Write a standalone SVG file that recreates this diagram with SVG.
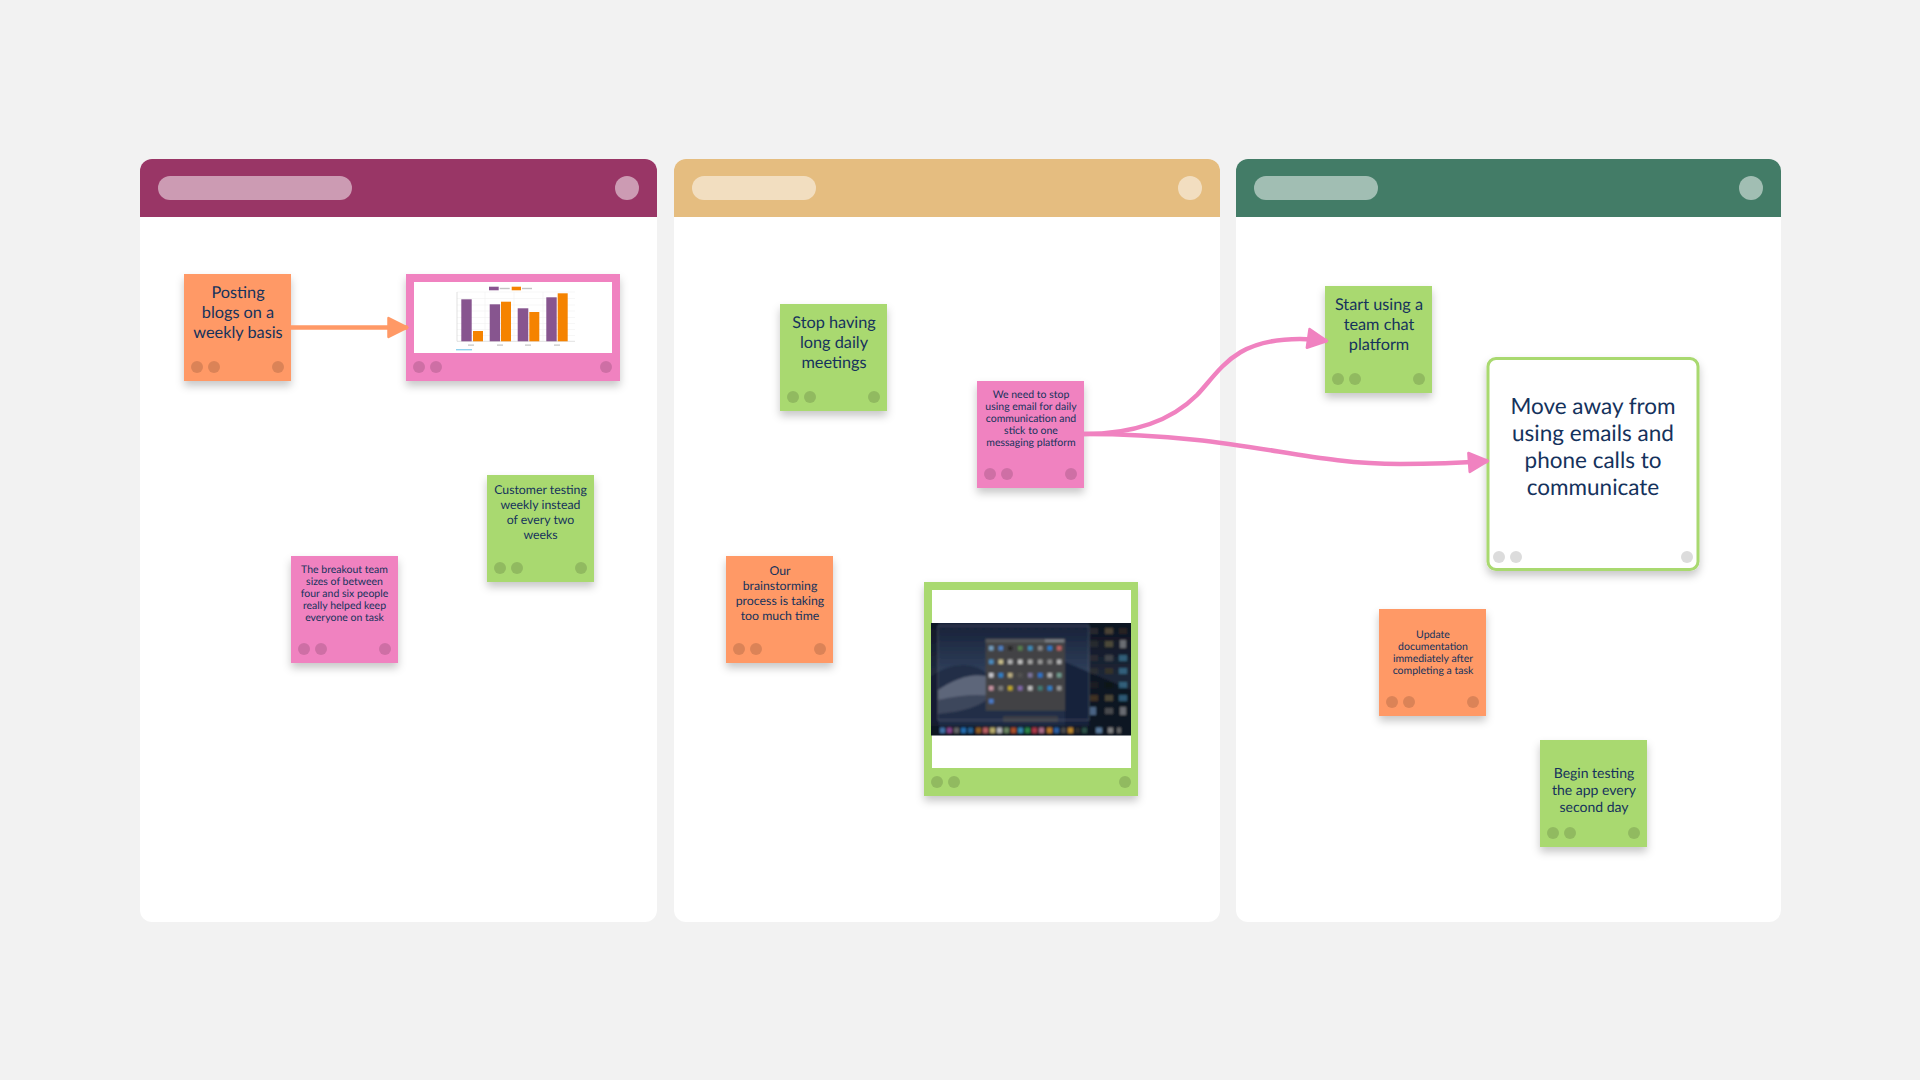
<svg xmlns="http://www.w3.org/2000/svg" width="1920" height="1080" viewBox="0 0 1920 1080">
<style>
text{font-family:"Lato","Noto Sans",sans-serif;fill:#15325c;text-anchor:middle;text-rendering:geometricPrecision}
.s{font-size:10.5px;transform:translateY(.4px)}.m{font-size:12.3px;transform:translateY(.4px)}.c{font-size:14px}.l{font-size:16.3px;transform:translateY(.6px)}.x{font-size:22.5px}
.o{fill:#ff9966}.p{fill:#f082c0}.g{fill:#a9d96f}
.d{fill:#000;fill-opacity:.14}.dw{fill:#dcdcdc}
.pill{fill:#fff;fill-opacity:.5}
.wire{fill:none;stroke-width:4.500}
</style>
<defs>
<filter id="sh" x="-20%" y="-20%" width="140%" height="150%"><feDropShadow dx="0" dy="5" stdDeviation="4" flood-color="#000" flood-opacity=".22"/></filter>
<filter id="bl" x="-5%" y="-5%" width="110%" height="110%"><feGaussianBlur stdDeviation=".85"/></filter>
<filter id="bl2" x="-5%" y="-5%" width="110%" height="110%"><feGaussianBlur stdDeviation=".35"/></filter>
<clipPath id="shot"><rect x="931" y="623" width="200" height="112.500"/></clipPath>
<linearGradient id="sky" x1="0" y1="0" x2="0" y2="1"><stop offset="0" stop-color="#141e34"/><stop offset=".5" stop-color="#33435f"/><stop offset="1" stop-color="#18223a"/></linearGradient>
<marker id="ho" markerUnits="userSpaceOnUse" markerWidth="26" markerHeight="26" refX="21" refY="12" orient="auto"><path d="M2 2.500L21 12L2 21.500Z" fill="#ff9966" stroke="#ff9966" stroke-width="2.500" stroke-linejoin="round"/></marker>
<marker id="hp" markerUnits="userSpaceOnUse" markerWidth="26" markerHeight="26" refX="21" refY="12" orient="auto"><path d="M2 2.500L21 12L2 21.500Z" fill="#f082c0" stroke="#f082c0" stroke-width="2.500" stroke-linejoin="round"/></marker>
</defs>
<rect width="1920" height="1080" fill="#f2f2f2"/>

<g id="panel-1"><rect x="140" y="159" width="517" height="763" rx="12" fill="#fff"/><path d="M140 217V171a12 12 0 0 1 12-12H645a12 12 0 0 1 12 12V217Z" fill="#993666"/><rect class="pill" x="158" y="176" width="194" height="24" rx="12"/><circle class="pill" cx="627" cy="188" r="12"/></g>
<g id="panel-2"><rect x="674" y="159" width="546" height="763" rx="12" fill="#fff"/><path d="M674 217V171a12 12 0 0 1 12-12H1208a12 12 0 0 1 12 12V217Z" fill="#e5bd80"/><rect class="pill" x="692" y="176" width="124" height="24" rx="12"/><circle class="pill" cx="1190" cy="188" r="12"/></g>
<g id="panel-3"><rect x="1236" y="159" width="545" height="763" rx="12" fill="#fff"/><path d="M1236 217V171a12 12 0 0 1 12-12H1769a12 12 0 0 1 12 12V217Z" fill="#437c67"/><rect class="pill" x="1254" y="176" width="124" height="24" rx="12"/><circle class="pill" cx="1751" cy="188" r="12"/></g>

<g id="note-posting"><rect class="o" x="184" y="274" width="107" height="107" filter="url(#sh)"/><text class="l" x="238" y="297">Posting</text><text class="l" x="238" y="317">blogs on a</text><text class="l" x="238" y="337">weekly basis</text><circle class="d" cx="197" cy="367" r="6"/><circle class="d" cx="214" cy="367" r="6"/><circle class="d" cx="278" cy="367" r="6"/></g>

<g id="note-chart"><rect class="p" x="406" y="274" width="214" height="107" filter="url(#sh)"/><rect x="414" y="282" width="198" height="71" fill="#fff"/>
<g filter="url(#bl2)">
<path d="M457 292H575M457 298.500H575M457 305H575M457 311H575M457 317.500H575M457 323.500H575M457 329.500H575M457 335.500H575M485 292V341M514 292V341M543 292V341" stroke="#eee" stroke-width=".5" fill="none"/>
<path d="M457 341.300H575M457 292V341.300" stroke="#ccc" stroke-width=".6" fill="none"/>
<g fill="#87548f"><rect x="461.300" y="299.300" width="10.400" height="42"/><rect x="489.700" y="304.300" width="10.400" height="37"/><rect x="517.700" y="308.300" width="10.600" height="33"/><rect x="546.300" y="297.300" width="10.400" height="44"/><rect x="489" y="286.700" width="9.700" height="3.600"/></g>
<g fill="#f58300"><rect x="473" y="331" width="10" height="10.300"/><rect x="501" y="301.700" width="10" height="39.600"/><rect x="529.300" y="312" width="10" height="29.300"/><rect x="557.700" y="293.300" width="10" height="48"/><rect x="511.700" y="286.700" width="9.300" height="3.600"/></g>
<g fill="#c4c4c4"><rect x="499.700" y="287.800" width="10" height="1.400"/><rect x="522" y="287.800" width="10" height="1.400"/><rect x="468" y="344.500" width="6" height="1.200"/><rect x="497" y="344.500" width="6" height="1.200"/><rect x="525" y="344.500" width="6" height="1.200"/><rect x="554" y="344.500" width="6" height="1.200"/></g>
<rect x="456" y="349" width="16" height="1.400" fill="#8fd0ee"/>
</g>
<circle class="d" cx="419" cy="367" r="6"/><circle class="d" cx="436" cy="367" r="6"/><circle class="d" cx="606" cy="367" r="6"/></g>

<g id="note-customer"><rect class="g" x="487" y="475" width="107" height="107" filter="url(#sh)"/><text class="m" x="540.500" y="494">Customer testing</text><text class="m" x="540.500" y="509">weekly instead</text><text class="m" x="540.500" y="524">of every two</text><text class="m" x="540.500" y="539">weeks</text><circle class="d" cx="500" cy="568" r="6"/><circle class="d" cx="517" cy="568" r="6"/><circle class="d" cx="581" cy="568" r="6"/></g>

<g id="note-breakout"><rect class="p" x="291" y="556" width="107" height="107" filter="url(#sh)"/><text class="s" x="344.500" y="573">The breakout team</text><text class="s" x="344.500" y="585">sizes of between</text><text class="s" x="344.500" y="597">four and six people</text><text class="s" x="344.500" y="609">really helped keep</text><text class="s" x="344.500" y="621">everyone on task</text><circle class="d" cx="304" cy="649" r="6"/><circle class="d" cx="321" cy="649" r="6"/><circle class="d" cx="385" cy="649" r="6"/></g>

<g id="note-stop"><rect class="g" x="780" y="304" width="107" height="107" filter="url(#sh)"/><text class="l" x="834" y="327">Stop having</text><text class="l" x="834" y="347">long daily</text><text class="l" x="834" y="367">meetings</text><circle class="d" cx="793" cy="397" r="6"/><circle class="d" cx="810" cy="397" r="6"/><circle class="d" cx="874" cy="397" r="6"/></g>

<g id="note-email"><rect class="p" x="977" y="381" width="107" height="107" filter="url(#sh)"/><text class="s" x="1031" y="398">We need to stop</text><text class="s" x="1031" y="410">using email for daily</text><text class="s" x="1031" y="422">communication and</text><text class="s" x="1031" y="434">stick to one</text><text class="s" x="1031" y="446">messaging platform</text><circle class="d" cx="990" cy="474" r="6"/><circle class="d" cx="1007" cy="474" r="6"/><circle class="d" cx="1071" cy="474" r="6"/></g>

<g id="note-brainstorm"><rect class="o" x="726" y="556" width="107" height="107" filter="url(#sh)"/><text class="m" x="780" y="575">Our</text><text class="m" x="780" y="590">brainstorming</text><text class="m" x="780" y="605">process is taking</text><text class="m" x="780" y="620">too much time</text><circle class="d" cx="739" cy="649" r="6"/><circle class="d" cx="756" cy="649" r="6"/><circle class="d" cx="820" cy="649" r="6"/></g>

<g id="note-screenshot"><rect class="g" x="924" y="582" width="214" height="214" filter="url(#sh)"/><rect x="932" y="590" width="199" height="178" fill="#fff"/>
<g clip-path="url(#shot)"><g filter="url(#bl)">
<rect x="925" y="618" width="212" height="122" fill="url(#sky)"/>
<path d="M925 680Q960 655 985 672L1010 690Q1050 670 1080 690L1095 722H925Z" fill="#222d47"/>
<path d="M938 690Q965 672 985 676Q1005 682 1000 690Q980 700 960 698Q945 701 938 706Z" fill="#5d667a"/>
<path d="M938 700Q970 693 990 696Q980 710 938 714Z" fill="#3e475c"/>
<path d="M1065 662L1131 690V726H1065Z" fill="#18223a"/>
<rect x="925" y="618" width="13.500" height="108" fill="#000" fill-opacity=".3"/>
<rect x="1089" y="618" width="48" height="108" fill="#000" fill-opacity=".4"/>
<rect x="985.700" y="639" width="79.300" height="71.700" fill="#434345"/><rect x="985.700" y="639" width="79.300" height="3.500" fill="#55565a"/>
<rect x="1045" y="639.600" width="19" height="2.500" fill="#7f8287"/>
<g opacity=".8">
<rect x="989" y="646" width="4.500" height="4.500" fill="#7fb4dc"/><rect x="998.500" y="646" width="4.500" height="4.500" fill="#4f8fe0"/><rect x="1008" y="646" width="4.500" height="4.500" fill="#222"/><rect x="1018" y="646" width="4.500" height="4.500" fill="#5c8f4f"/><rect x="1028" y="646" width="4.500" height="4.500" fill="#3aa0d8"/><rect x="1038" y="646" width="4.500" height="4.500" fill="#999"/><rect x="1047.500" y="646" width="4.500" height="4.500" fill="#2288ee"/><rect x="1057" y="646" width="4.500" height="4.500" fill="#d86a6a"/>
<rect x="989" y="659.500" width="4.500" height="4.500" fill="#4ba0e0"/><rect x="998.500" y="659.500" width="4.500" height="4.500" fill="#e8dca0"/><rect x="1008" y="659.500" width="4.500" height="4.500" fill="#ccc"/><rect x="1018" y="659.500" width="4.500" height="4.500" fill="#ddd"/><rect x="1028" y="659.500" width="4.500" height="4.500" fill="#bbb"/><rect x="1038" y="659.500" width="4.500" height="4.500" fill="#aaa"/><rect x="1047.500" y="659.500" width="4.500" height="4.500" fill="#999"/><rect x="1057" y="659.500" width="4.500" height="4.500" fill="#ccc"/>
<rect x="989" y="673" width="4.500" height="4.500" fill="#e8e8f0"/><rect x="998.500" y="673" width="4.500" height="4.500" fill="#2a90e8"/><rect x="1008" y="673" width="4.500" height="4.500" fill="#d8c890"/><rect x="1018" y="673" width="4.500" height="4.500" fill="#555"/><rect x="1028" y="673" width="4.500" height="4.500" fill="#8a80b0"/><rect x="1038" y="673" width="4.500" height="4.500" fill="#2a80e8"/><rect x="1047.500" y="673" width="4.500" height="4.500" fill="#ccc"/><rect x="1057" y="673" width="4.500" height="4.500" fill="#7ab0a0"/>
<rect x="989" y="686" width="4.500" height="4.500" fill="#e8a8b8"/><rect x="998.500" y="686" width="4.500" height="4.500" fill="#888"/><rect x="1008" y="686" width="4.500" height="4.500" fill="#e0c020"/><rect x="1018" y="686" width="4.500" height="4.500" fill="#9070c0"/><rect x="1028" y="686" width="4.500" height="4.500" fill="#ddd"/><rect x="1038" y="686" width="4.500" height="4.500" fill="#408880"/><rect x="1047.500" y="686" width="4.500" height="4.500" fill="#2a90e8"/><rect x="1057" y="686" width="4.500" height="4.500" fill="#aaa"/>
<rect x="989" y="699" width="4.500" height="4.500" fill="#4a88e8"/>
</g>
<g opacity=".65">
<rect x="1090" y="628" width="8" height="6" fill="#333"/><rect x="1105" y="628" width="8" height="6" fill="#6a5a40"/><rect x="1119" y="628" width="8" height="6" fill="#332a20"/>
<rect x="1090" y="641" width="8" height="6" fill="#333"/><rect x="1105" y="641" width="8" height="6" fill="#6a6040"/><rect x="1120" y="640" width="6" height="8" fill="#999"/>
<rect x="1090" y="655" width="8" height="6" fill="#333"/><rect x="1105" y="655" width="8" height="6" fill="#555"/><rect x="1119" y="655" width="8" height="6" fill="#3f7f9f"/>
<rect x="1090" y="668" width="8" height="6" fill="#333"/><rect x="1105" y="668" width="8" height="6" fill="#443a28"/><rect x="1119" y="668" width="8" height="6" fill="#3f7f9f"/>
<rect x="1090" y="682" width="8" height="6" fill="#222"/><rect x="1105" y="682" width="8" height="6" fill="#111"/><rect x="1119" y="682" width="8" height="6" fill="#3f7f9f"/>
<rect x="1090" y="695" width="8" height="6" fill="#5a4020"/><rect x="1105" y="695" width="8" height="6" fill="#6a6040"/><rect x="1119" y="695" width="8" height="6" fill="#3f7f9f"/>
<rect x="1090" y="707" width="6" height="8" fill="#6a90b8"/><rect x="1105" y="708" width="8" height="6" fill="#666"/><rect x="1120" y="707" width="6" height="8" fill="#999"/>
</g>
<rect x="1003" y="716" width="55" height="6" rx="1" fill="#3a3d44"/>
<path d="M938 626H1089V720H938Z" fill="none" stroke="#8a93a5" stroke-width=".4"/>
<rect x="925" y="726" width="212" height="14" fill="#0e1320"/>
<g opacity=".8">
<rect x="940" y="727.500" width="5" height="5.500" fill="#4d86c8"/><rect x="947" y="727.500" width="5" height="5.500" fill="#a050a0"/><rect x="954" y="727.500" width="5" height="5.500" fill="#777"/><rect x="961" y="727.500" width="5" height="5.500" fill="#2a80d0"/><rect x="968" y="727.500" width="5" height="5.500" fill="#2a70b0"/><rect x="976" y="727.500" width="5" height="5.500" fill="#b07020"/><rect x="983" y="727.500" width="5" height="5.500" fill="#e07070"/><rect x="990" y="727.500" width="5" height="5.500" fill="#e0d080"/><rect x="997" y="727.500" width="5" height="5.500" fill="#ddd"/><rect x="1004" y="727.500" width="5" height="5.500" fill="#80a070"/><rect x="1011" y="727.500" width="5" height="5.500" fill="#d06030"/><rect x="1018" y="727.500" width="5" height="5.500" fill="#40a0d0"/><rect x="1025" y="727.500" width="5" height="5.500" fill="#30a050"/><rect x="1032" y="727.500" width="5" height="5.500" fill="#d04050"/><rect x="1039" y="727.500" width="5" height="5.500" fill="#d080a0"/><rect x="1047" y="727.500" width="5" height="5.500" fill="#e09030"/><rect x="1054" y="727.500" width="5" height="5.500" fill="#3070c0"/><rect x="1061" y="727.500" width="5" height="5.500" fill="#555"/><rect x="1068" y="727.500" width="5" height="5.500" fill="#e0a030"/><rect x="1075" y="727.500" width="5" height="5.500" fill="#333"/><rect x="1082" y="727.500" width="5" height="5.500" fill="#306050"/><rect x="1096" y="727.500" width="6" height="5.500" fill="#6a90b8"/><rect x="1108" y="727.500" width="5" height="5.500" fill="#999"/><rect x="1117" y="727.500" width="4" height="5.500" fill="#777"/>
</g>
</g></g>
<circle class="d" cx="937" cy="782" r="6"/><circle class="d" cx="954" cy="782" r="6"/><circle class="d" cx="1125" cy="782" r="6"/></g>

<g id="note-chat"><rect class="g" x="1325" y="286" width="107" height="107" filter="url(#sh)"/><text class="l" x="1379" y="309">Start using a</text><text class="l" x="1379" y="329">team chat</text><text class="l" x="1379" y="349">platform</text><circle class="d" cx="1338" cy="379" r="6"/><circle class="d" cx="1355" cy="379" r="6"/><circle class="d" cx="1419" cy="379" r="6"/></g>

<g id="note-move"><rect x="1488" y="358.500" width="210" height="211" rx="8" fill="#fff" stroke="#a9d96f" stroke-width="3" filter="url(#sh)"/><text class="x" x="1593" y="413.500">Move away from</text><text class="x" x="1593" y="440.500">using emails and</text><text class="x" x="1593" y="467.500">phone calls to</text><text class="x" x="1593" y="494.500">communicate</text><circle class="dw" cx="1499" cy="557" r="6"/><circle class="dw" cx="1516" cy="557" r="6"/><circle class="dw" cx="1687" cy="557" r="6"/></g>

<g id="note-update"><rect class="o" x="1379" y="609" width="107" height="107" filter="url(#sh)"/><text class="s" x="1433" y="638">Update</text><text class="s" x="1433" y="650">documentation</text><text class="s" x="1433" y="662">immediately after</text><text class="s" x="1433" y="674">completing a task</text><circle class="d" cx="1392" cy="702" r="6"/><circle class="d" cx="1409" cy="702" r="6"/><circle class="d" cx="1473" cy="702" r="6"/></g>

<g id="note-begin"><rect class="g" x="1540" y="740" width="107" height="107" filter="url(#sh)"/><text class="c" x="1594" y="778">Begin testing</text><text class="c" x="1594" y="795">the app every</text><text class="c" x="1594" y="812">second day</text><circle class="d" cx="1553" cy="833" r="6"/><circle class="d" cx="1570" cy="833" r="6"/><circle class="d" cx="1634" cy="833" r="6"/></g>

<g id="connectors">
<path class="wire" stroke="#ff9966" d="M291 327.500H407.500" marker-end="url(#ho)"/>
<path class="wire" stroke="#f082c0" d="M1084 434C1135 434 1172 420 1197 395C1222 368 1235 339 1300 339C1312 339 1320 340 1327 341" marker-end="url(#hp)"/>
<path class="wire" stroke="#f082c0" d="M1084 434C1240 434 1300 464 1400 464C1430 464 1460 463 1488 461" marker-end="url(#hp)"/>
</g>
</svg>
